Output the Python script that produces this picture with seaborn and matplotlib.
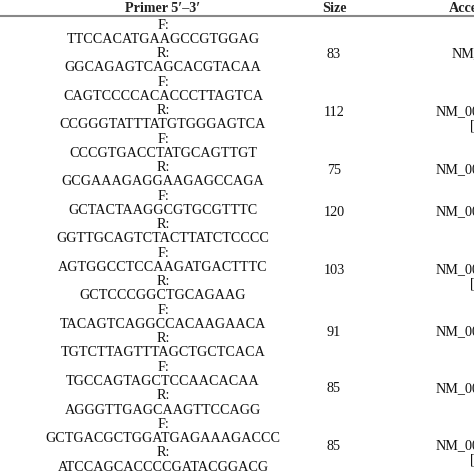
import matplotlib
matplotlib.use("Agg")
import matplotlib.pyplot as plt
import seaborn as sns

headers = ["Primer 5\u2032\u20133\u2032", "Size", "Accession"]
forward = ["TTCCACATGAAGCCGTGGAG", "CAGTCCCCACACCCTTAGTCA", "CCCGTGACCTATGCAGTTGT",
           "GCTACTAAGGCGTGCGTTTC", "AGTGGCCTCCAAGATGACTTTC", "TACAGTCAGGCCACAAGAACA",
           "TGCCAGTAGCTCCAACACAA", "GCTGACGCTGGATGAGAAAGACCC"]
reverse = ["GGCAGAGTCAGCACGTACAA", "CCGGGTATTTATGTGGGAGTCA", "GCGAAAGAGGAAGAGCCAGA",
           "GGTTGCAGTCTACTTATCTCCCC", "GCTCCCGGCTGCAGAAG", "TGTCTTAGTTTAGCTGCTCACA",
           "AGGGTTGAGCAAGTTCCAGG", "ATCCAGCACCCCGATACGGACG"]
sizes = [83, 112, 75, 120, 103, 91, 85, 85]
accession = ["NM_1", "NM_00", "NM_00", "NM_00", "NM_00", "NM_00", "NM_00", "NM_00"]
acc_extra = ["", "[", "", "", "[", "", "", "["]
size_y = [54, 112, 170, 212, 270, 332, 389, 446]

sns.set_theme(style="white")
plt.rcParams['font.family'] = ['Liberation Serif', 'DejaVu Serif']
fig = plt.figure(figsize=(4.74, 4.74), dpi=100)
ax = fig.add_axes([0, 0, 1, 1])
ax.set_xlim(0, 474)
ax.set_ylim(474, 0)
ax.axis("off")

fs = 10.2
ax.text(163, 8, headers[0], ha="center", va="center", fontsize=fs, fontweight="bold", color="#222")
ax.text(334, 8, headers[1], ha="center", va="center", fontsize=fs, fontweight="bold", color="#222")
ax.text(449, 8, headers[2], ha="left", va="center", fontsize=fs, fontweight="bold", color="#222")
ax.plot([0, 474], [16, 16], color="#888", lw=1.5)

step = 14.26
for i in range(len(sizes)):
    y0 = 25 + 4 * i * step
    lines = ["F:", forward[i], "R:", reverse[i]]
    for j, t in enumerate(lines):
        ax.text(163, y0 + j * step, t, ha="center", va="center", fontsize=fs, color="#111")
    ax.text(334, size_y[i], str(sizes[i]), ha="center", va="center", fontsize=fs, color="#111")
    ax.text(436 if accession[i] != "NM_1" else 452, size_y[i], accession[i], ha="left", va="center", fontsize=fs, color="#111")
    if acc_extra[i]:
        ax.text(470, size_y[i] + 14, acc_extra[i], ha="left", va="center", fontsize=fs, color="#111")

fig.savefig("out.png", dpi=100)
